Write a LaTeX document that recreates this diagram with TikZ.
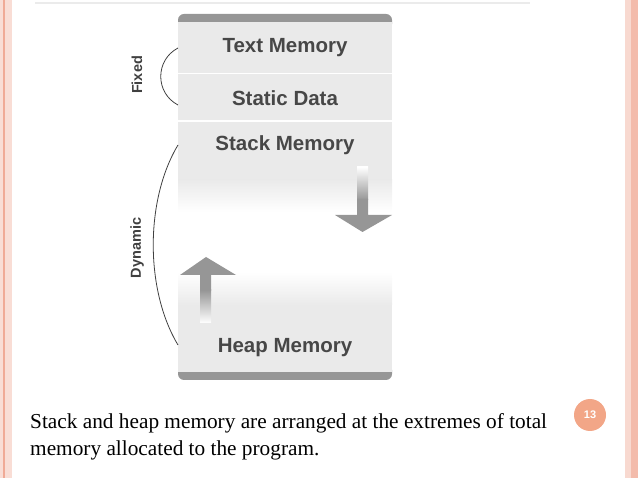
\documentclass[tikz,border=0pt]{standalone}
\usepackage{fontspec}
\setmainfont{Liberation Serif}
\newfontfamily\memfont{Liberation Sans}
\usetikzlibrary{positioning,arrows.meta}
\definecolor{band}{RGB}{150,150,150}
\definecolor{cell}{RGB}{234,234,234}
\definecolor{slide}{RGB}{240,170,150}
\begin{document}
\begin{tikzpicture}[x=1pt,y=-1pt]
    % Define styles
    \tikzset{seg/.style={font=\memfont\bfseries\fontsize{20.5}{22}\selectfont, text=black!72},
             side/.style={font=\memfont\bfseries\fontsize{14.5}{16}\selectfont, text=black!75, rotate=90},
             growarrow/.style={fill=band, draw=none}}
    \useasboundingbox (0,0) rectangle (638,478);
    % Slide frame
    \fill[slide!40] (0,0) rectangle (12,478);
    \draw[slide, line width=1.5pt] (4,0) -- (4,478);
    \fill[slide!45] (625,0) rectangle (638,478);
    \fill[slide!80] (631,0) rectangle (638,478);
    \draw[black!8, line width=1.5pt] (35,3) -- (530,3);
    % Memory block
    \fill[band, rounded corners=6pt] (178,14) rectangle (392,30);
    \fill[band, rounded corners=6pt] (178,364) rectangle (392,380);
    \fill[cell] (178,22) rectangle (392,73);
    \fill[cell] (178,74) rectangle (392,120);
    \fill[cell] (178,122) rectangle (392,180);
    \shade[top color=cell, bottom color=white] (178,180) rectangle (392,212);
    \shade[top color=white, bottom color=cell] (178,272) rectangle (392,305);
    \fill[cell] (178,305) rectangle (392,372);
    \node[seg] (text) at (285,48) {Text Memory};
    \node[seg] (static) at (285,98) {Static Data};
    \node[seg] (stack) at (285,145) {Stack Memory};
    \node[seg] (heap) at (285,348) {Heap Memory};
    % Growth arrows
    \shade[top color=white, bottom color=band] (357,167) rectangle (368,200);
    \fill[growarrow] (357,199) -- (368,199) -- (368,215) -- (392,215) -- (362.5,232) -- (335,215) -- (357,215) -- cycle;
    \shade[top color=band, bottom color=white] (200,290) rectangle (211,323);
    \fill[growarrow] (200,291) -- (211,291) -- (211,275) -- (236,275) -- (206,257) -- (180,275) -- (200,275) -- cycle;
    % Groups
    \coordinate (fa) at (178,48);
    \coordinate (fb) at (178,105);
    \coordinate (da) at (178,145);
    \coordinate (db) at (178,345);
    \draw[thick, black!75] (fa) .. controls (155,60) and (155,93) .. (fb);
    \draw[thick, black!75] (da) .. controls (145,200) and (145,290) .. (db);
    \node[side] (fixed) at (137,75) {Fixed};
    \node[side] (dynamic) at (137,248) {Dynamic};
    % Caption
    \node[anchor=north west, align=left, font=\fontsize{21.3}{27}\selectfont, inner sep=0pt] (caption) at (30,413)
        {Stack and heap memory are arranged at the extremes of total\\memory allocated to the program.};
    \node[circle, fill=slide!90!orange, text=white, minimum size=32pt, inner sep=0pt,
          font=\memfont\bfseries\fontsize{11}{12}\selectfont] (page) at (590,415) {13};
\end{tikzpicture}
\end{document}
